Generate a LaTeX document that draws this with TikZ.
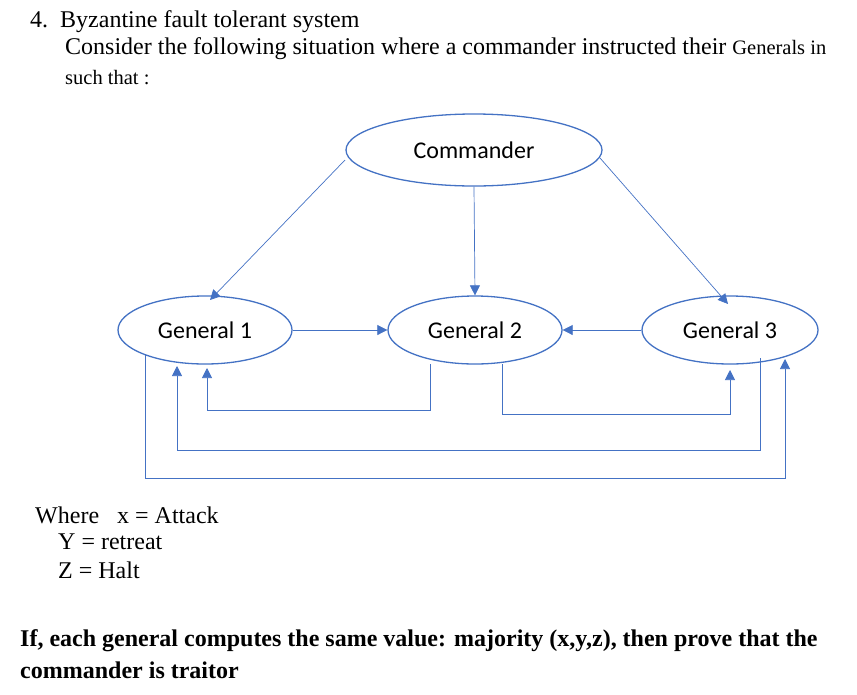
\documentclass[tikz,border=0pt]{standalone}
\usepackage{fontspec}
\setmainfont{Liberation Serif}
\newfontfamily\calfnt{Carlito}
\usetikzlibrary{shapes.geometric,arrows.meta}
\definecolor{ln}{HTML}{4472C4}
\begin{document}
\begin{tikzpicture}[x=1pt,y=-1pt,
 el/.style={ellipse,draw=ln,line width=1.3pt,fill=white,inner sep=0pt,font=\calfnt\fontsize{24}{28}\selectfont},
 ar/.style={draw=ln,line width=0.7pt,-{Triangle[length=10pt,width=10pt]}},
 tx/.style={anchor=west,inner sep=0pt,font=\fontsize{24}{28}\selectfont}]
\useasboundingbox (0,0) rectangle (857,694);
\node[tx] (t1) at (30,22) {4.\enspace Byzantine fault tolerant system};
\node[tx] (t2) at (65,49) {Consider the following situation where a commander instructed their {\fontsize{20.5}{24}\selectfont Generals in}};
\node[tx,font=\fontsize{20.5}{24}\selectfont] (t3) at (65,78) {such that :};
\node[el,minimum width=256pt,minimum height=72pt] (c) at (474,150) {Commander};
\node[el,minimum width=174pt,minimum height=68pt] (g1) at (205,330) {General 1};
\node[el,minimum width=174pt,minimum height=68pt] (g2) at (475,330) {General 2};
\node[el,minimum width=176pt,minimum height=68pt] (g3) at (730,330) {General 3};
\draw[ar] (345,160) -- (210,300);
\draw[ar] (c.south) -- (g2.north);
\draw[ar] (600,158) -- (728,304);
\draw[ar] (g1.east) -- (g2.west);
\draw[ar] (g3.west) -- (g2.east);
\draw[ar] (430,364) -- (430,410) -- (207,410) -- (207,368);
\draw[ar] (502,364) -- (502,414) -- (730,414) -- (730,370);
\draw[ar] (760,358) -- (760,450) -- (177,450) -- (177,366);
\draw[ar] (145,355) -- (145,478) -- (785,478) -- (785,359);
\node[tx] (w1) at (35,515) {Where\enspace\ x = Attack};
\node[tx] (w2) at (58,542) {Y = retreat};
\node[tx] (w3) at (58,570) {Z = Halt};
\node[tx,font=\bfseries\fontsize{24}{28}\selectfont] (b1) at (20,641) {If, each general computes the same value: majority (x,y,z), then prove that the};
\node[tx,font=\bfseries\fontsize{24}{28}\selectfont] (b2) at (20,670) {commander is traitor};
\end{tikzpicture}
\end{document}
